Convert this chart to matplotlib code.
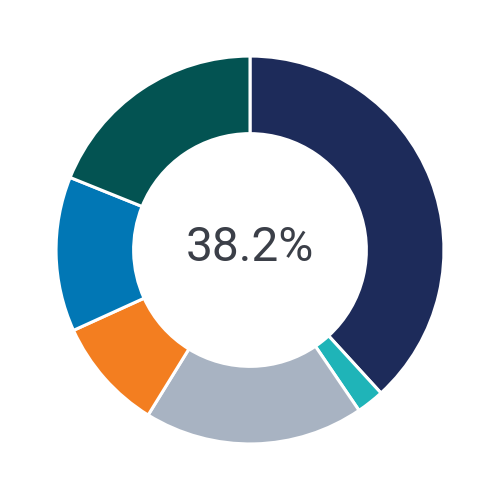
import matplotlib
matplotlib.use("Agg")
import matplotlib.pyplot as plt

labels = ["A", "B", "C", "D", "E", "F"]
values = [38.2, 2.3, 18.3, 9.4, 12.9, 18.9]
colors = ["#1d2b5a", "#1fb4b8", "#a8b3c2", "#f37e20", "#0177b5", "#035352"]
center_text = "38.2%"

fig = plt.figure(figsize=(5, 5), dpi=100)
ax = fig.add_axes([0, 0, 1, 1])
ax.pie(values, colors=colors, startangle=90, counterclock=False, radius=1.0,
       wedgeprops=dict(width=0.4, edgecolor="white", linewidth=2.2))
ax.text(0, 0.01, center_text, ha="center", va="center", fontsize=34.5, color="#3b3f48",
        family="Roboto")
ax.set_xlim(-1.289, 1.289)
ax.set_ylim(-1.289, 1.289)
ax.set_aspect("equal")
ax.axis("off")
fig.savefig("out.png", dpi=100, facecolor="white")
